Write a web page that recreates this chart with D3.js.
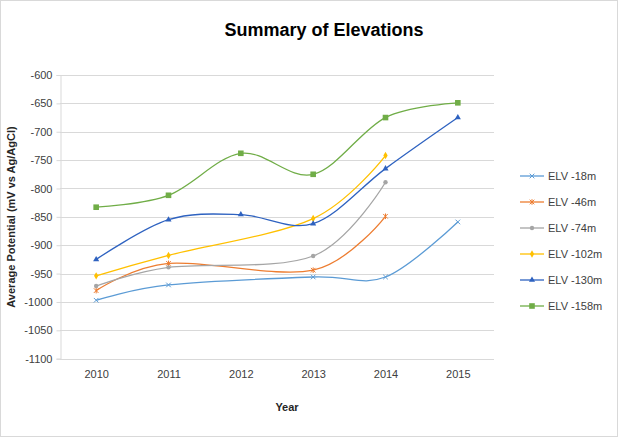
<html>
<head>
<meta charset="utf-8">
<script src="https://d3js.org/d3.v7.min.js"></script>
<style>
body { margin: 0; padding: 0; background: #fff; }
text { font-family: 'Liberation Sans', Arial, sans-serif; fill: #404040; }
</style>
</head>
<body>
<script>
var years = [2010, 2011, 2012, 2013, 2014, 2015];
var seriesNames = ["ELV -18m", "ELV -46m", "ELV -74m", "ELV -102m", "ELV -130m", "ELV -158m"];
// null = no reading that year (line is drawn across the gap)
var elv18  = [-997, -970, null, -956, -956, -859];
var elv46  = [-980, -932, null, -944, -849, null];
var elv74  = [-972, -939, null, -919, -789, null];
var elv102 = [-954, -918, null, -853, -742, null];
var elv130 = [-925, -855, -846, -862, -765, -675];
var elv158 = [-833, -812, -738, -775, -675, -649];
var yTicks = [-600, -650, -700, -750, -800, -850, -900, -950, -1000, -1050, -1100];

var allValues = [elv18, elv46, elv74, elv102, elv130, elv158];
var colors = ["#5B9BD5", "#ED7D31", "#A5A5A5", "#FFC000", "#2E62C0", "#70AD47"];
var markers = ["x", "star", "circle", "diamond", "triangle", "square"];

var W = 620, H = 438;
var plotL = 60, plotR = 494, plotT = 75, plotB = 358.7;

var svg = d3.select("body").append("svg")
    .attr("width", W)
    .attr("height", H);

svg.append("rect")
    .attr("x", 0.5).attr("y", 0.5)
    .attr("width", 617).attr("height", 436)
    .attr("fill", "#fff")
    .attr("stroke", "#d9d9d9");

var x = d3.scalePoint().domain(years).range([plotL, plotR]).padding(0.5);
var y = d3.scaleLinear().domain([-1100, -600]).range([plotB, plotT]);

// gridlines
svg.append("g").selectAll("line")
    .data(yTicks)
    .enter().append("line")
    .attr("x1", plotL).attr("x2", plotR)
    .attr("y1", function (d) { return Math.round(y(d)) + 0.5; })
    .attr("y2", function (d) { return Math.round(y(d)) + 0.5; })
    .attr("stroke", "#d9d9d9")
    .attr("stroke-width", 1);

// y axis
var yAxis = d3.axisLeft(y).tickValues(yTicks).tickSize(4).tickPadding(4)
    .tickFormat(function (d) { return String(d); });
var gy = svg.append("g")
    .attr("transform", "translate(" + (plotL + 0.5) + ",0)")
    .call(yAxis);
gy.selectAll("path, line").attr("stroke", "#d9d9d9");
gy.selectAll("text").style("font-size", "11px").attr("fill", "#404040");

// x axis (labels only)
var xAxis = d3.axisBottom(x).tickSize(0).tickPadding(12);
var gx = svg.append("g")
    .attr("transform", "translate(0," + plotB + ")")
    .call(xAxis);
gx.select(".domain").remove();
gx.selectAll("text").style("font-size", "11px").attr("fill", "#404040");

var line = d3.line()
    .x(function (d) { return x(d.year); })
    .y(function (d) { return y(d.v); })
    .curve(d3.curveCardinal.tension(0));

function drawMarker(g, type, cx, cy, color) {
    var s = 2.3;
    if (type === "x" || type === "star") {
        g.append("path")
            .attr("d", "M" + (cx - s) + "," + (cy - s) + "L" + (cx + s) + "," + (cy + s) +
                "M" + (cx - s) + "," + (cy + s) + "L" + (cx + s) + "," + (cy - s) +
                (type === "star" ? "M" + cx + "," + (cy - s - 0.5) + "L" + cx + "," + (cy + s + 0.5) : ""))
            .attr("stroke", color).attr("stroke-width", 1).attr("fill", "none");
    } else if (type === "circle") {
        g.append("circle").attr("cx", cx).attr("cy", cy).attr("r", 2.2).attr("fill", color);
    } else if (type === "diamond") {
        g.append("path")
            .attr("d", d3.symbol().type(d3.symbolDiamond).size(16)())
            .attr("transform", "translate(" + cx + "," + cy + ")")
            .attr("fill", color);
    } else if (type === "triangle") {
        g.append("path")
            .attr("d", d3.symbol().type(d3.symbolTriangle).size(16)())
            .attr("transform", "translate(" + cx + "," + cy + ")")
            .attr("fill", color);
    } else if (type === "square") {
        g.append("rect").attr("x", cx - 2.8).attr("y", cy - 2.8)
            .attr("width", 5.6).attr("height", 5.6).attr("fill", color);
    }
}

allValues.forEach(function (vals, i) {
    var pts = years.map(function (yr, j) { return { year: yr, v: vals[j] }; })
        .filter(function (d) { return d.v !== null; });
    var g = svg.append("g");
    g.append("path")
        .attr("d", line(pts))
        .attr("fill", "none")
        .attr("stroke", colors[i])
        .attr("stroke-width", 1.3);
    pts.forEach(function (d) {
        drawMarker(g, markers[i], x(d.year), y(d.v), colors[i]);
    });
});

// legend
var legY0 = 176, legStep = 26;
seriesNames.forEach(function (name, i) {
    var ly = legY0 + i * legStep;
    var g = svg.append("g");
    g.append("line")
        .attr("x1", 520).attr("x2", 544)
        .attr("y1", ly).attr("y2", ly)
        .attr("stroke", colors[i]).attr("stroke-width", 1.3);
    drawMarker(g, markers[i], 532, ly, colors[i]);
    g.append("text")
        .attr("x", 548).attr("y", ly + 4)
        .style("font-size", "11px")
        .text(name);
});

// titles
svg.append("text")
    .attr("x", 324).attr("y", 36)
    .attr("text-anchor", "middle")
    .style("font-size", "18px").style("font-weight", "bold")
    .style("fill", "#000")
    .text("Summary of Elevations");

svg.append("text")
    .attr("x", 287).attr("y", 411)
    .attr("text-anchor", "middle")
    .style("font-size", "11px").style("font-weight", "bold")
    .style("fill", "#262626")
    .text("Year");

svg.append("text")
    .attr("transform", "translate(15,217) rotate(-90)")
    .attr("text-anchor", "middle")
    .style("font-size", "11px").style("font-weight", "bold")
    .style("fill", "#262626")
    .text("Average Potential (mV vs Ag/AgCl)");
</script>
</body>
</html>
